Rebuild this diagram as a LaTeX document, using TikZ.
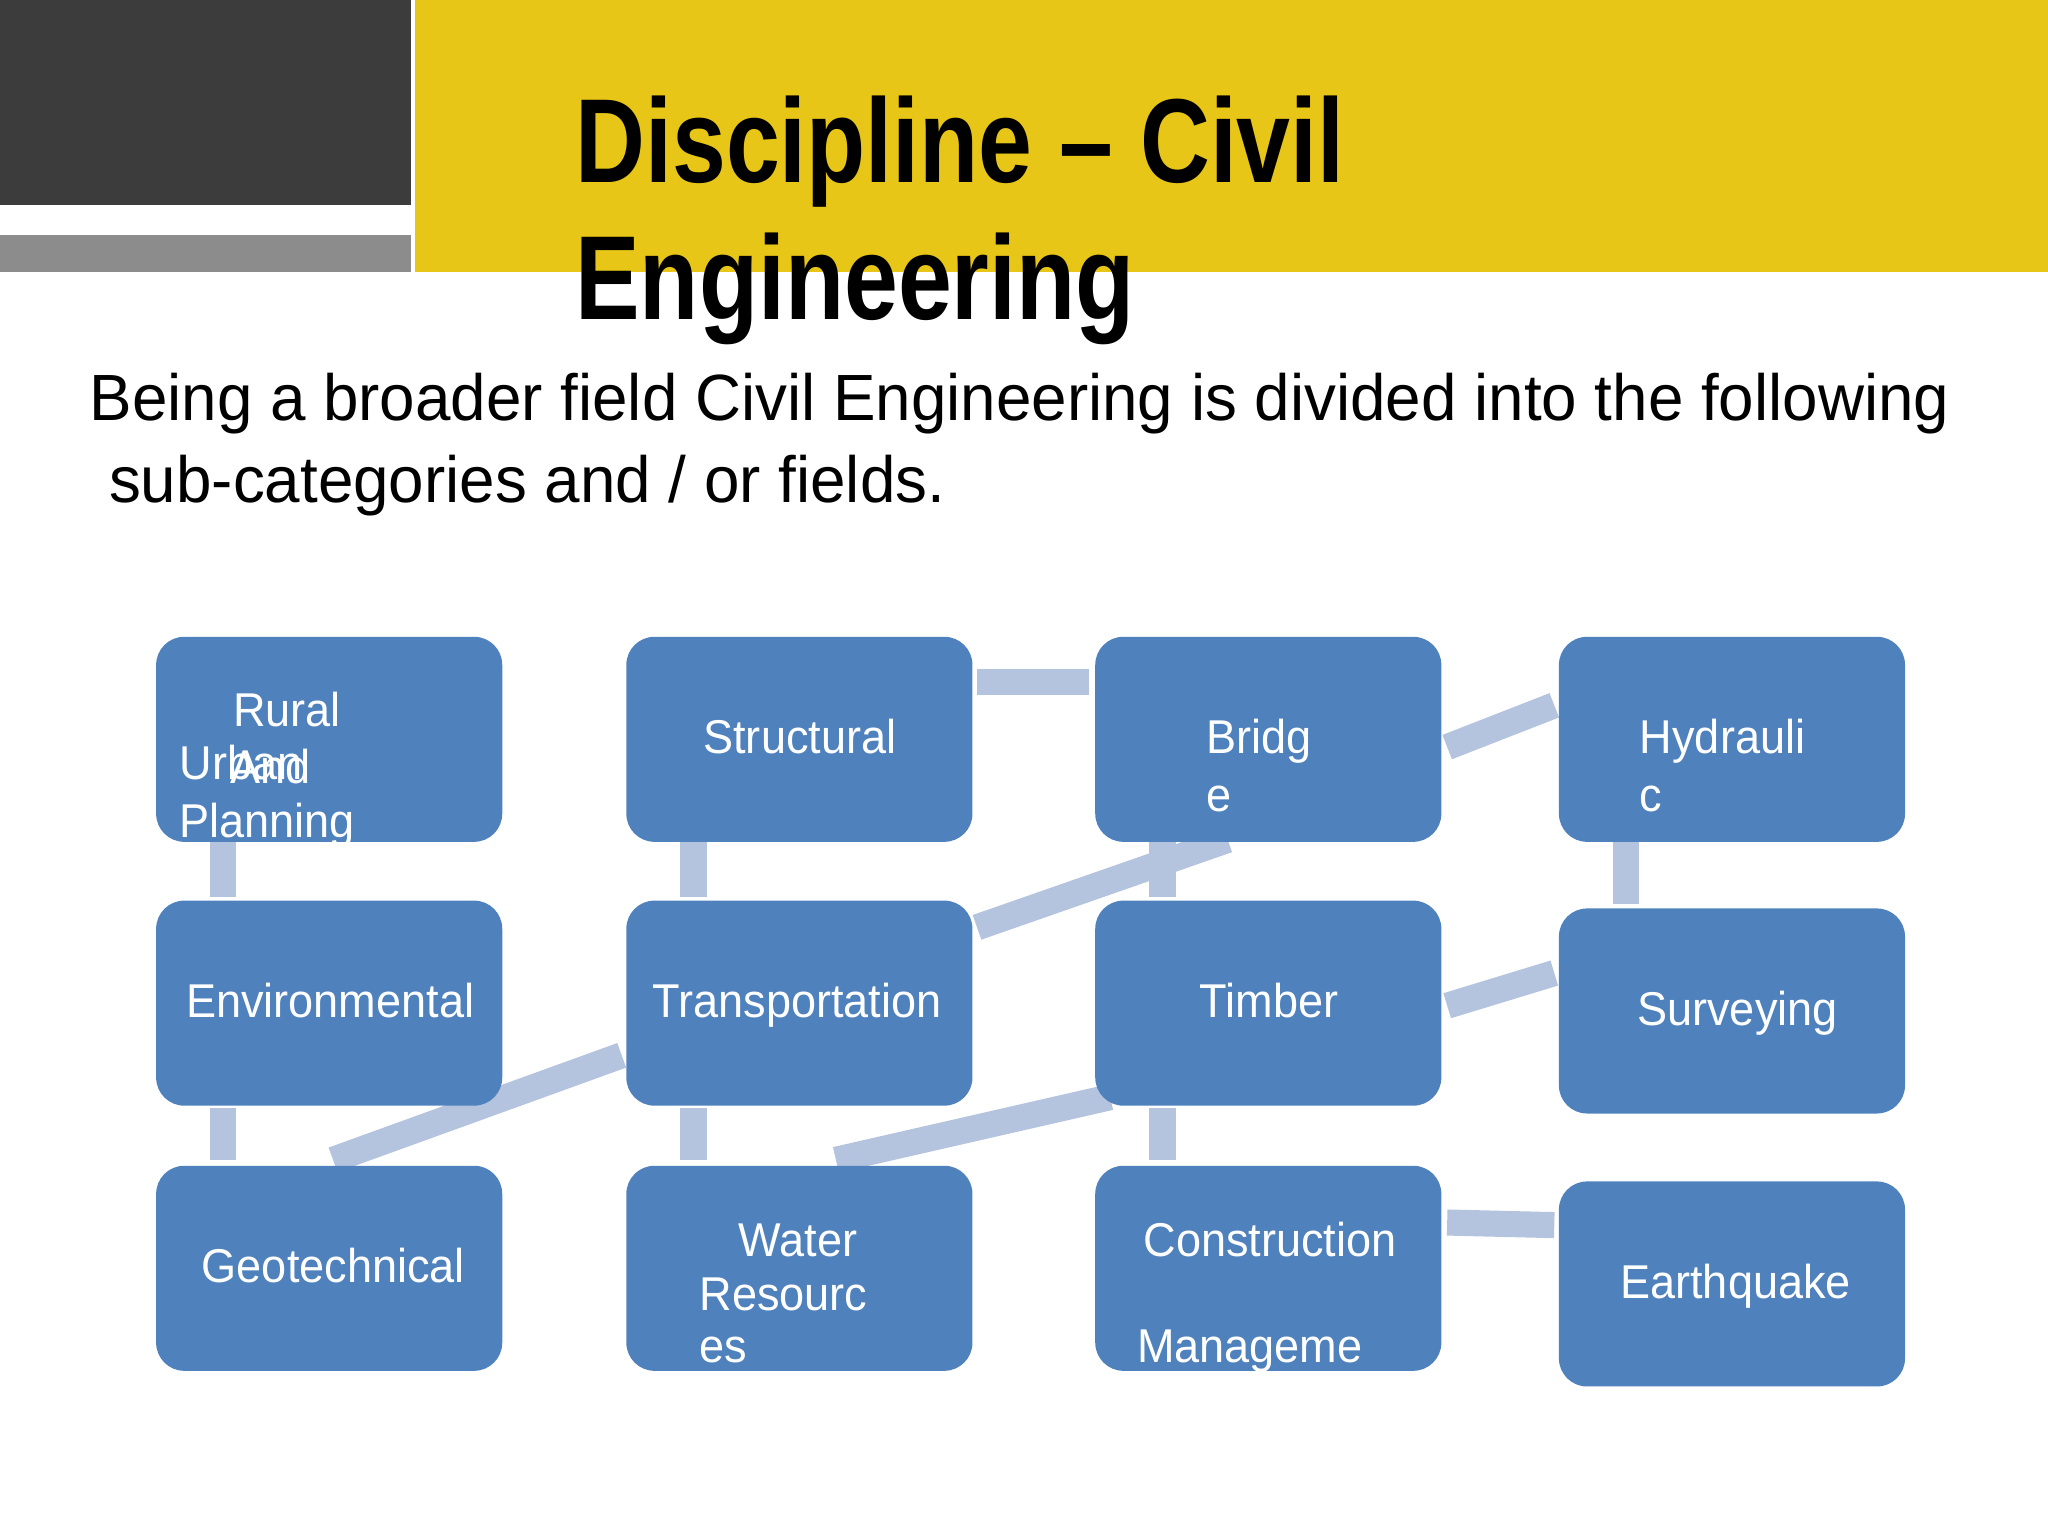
\documentclass[tikz,border=0pt]{standalone}
\usepackage{fontspec}
\setmainfont{Liberation Sans}
\newfontfamily\titlefont{Liberation Sans}[FakeStretch=0.81]
\newfontfamily\bodyfont{Liberation Sans}[FakeStretch=0.975]
\newfontfamily\boxfont{Liberation Sans}[FakeStretch=0.95]
\usetikzlibrary{positioning}
\definecolor{boxblue}{HTML}{4F81BD}
\definecolor{linkblue}{HTML}{B4C3DE}
\definecolor{bandyellow}{HTML}{E8C617}
\definecolor{darkband}{HTML}{3C3C3C}
\definecolor{greyband}{HTML}{8C8C8C}
\tikzset{field/.style={fill=boxblue,rounded corners=8,minimum width=265*0.013061cm,minimum height=157*0.013061cm,inner sep=0pt,anchor=north west}}
\tikzset{ftext/.style={white,font=\boxfont\fontsize{13.5}{15}\selectfont,anchor=base west,inner sep=0pt}}
\tikzset{link/.style={linkblue,line width=20*0.013061cm}}
\begin{document}
\begin{tikzpicture}[x=0.013061cm,y=-0.013061cm]
            \useasboundingbox (0,0) rectangle (1568,1176);
            % header band
            \fill[darkband] (0,0) rectangle (315,157);
            \fill[greyband] (0,180) rectangle (315,208);
            \fill[bandyellow] (318,0) rectangle (1568,208);
            \node[anchor=base west,inner sep=0pt,font=\titlefont\fontsize{34}{40}\bfseries\selectfont] (title1) at (440,140) {Discipline – Civil};
            \node[anchor=base west,inner sep=0pt,font=\titlefont\fontsize{34}{40}\bfseries\selectfont] (title2) at (440,245) {Engineering};
            % intro text
            \node[anchor=base west,inner sep=0pt,font=\bodyfont\fontsize{18.6}{22}\selectfont] (intro1) at (68,322) {Being a\ broader field Civil Engineering is divided into the following};
            \node[anchor=base west,inner sep=0pt,font=\bodyfont\fontsize{18.6}{22}\selectfont] (intro2) at (83,385) {sub-categories and /\ or fields.};
            % coordinates for the links
            \coordinate (s1) at (171,645); \coordinate (s2) at (171,687);
            \coordinate (s3) at (171,848); \coordinate (s4) at (171,888);
            \coordinate (t1) at (531,645); \coordinate (t2) at (531,687);
            \coordinate (t3) at (531,848); \coordinate (t4) at (531,888);
            \coordinate (u1) at (890,645); \coordinate (u2) at (890,687);
            \coordinate (u3) at (890,848); \coordinate (u4) at (890,888);
            \coordinate (v1) at (1245,645); \coordinate (v2) at (1245,692);
            \coordinate (h1) at (748,522); \coordinate (h2) at (834,522);
            \coordinate (h3) at (1108,572); \coordinate (h4) at (1190,540);
            \coordinate (h5) at (748,710); \coordinate (h6) at (940,643);
            \coordinate (h7) at (1108,770); \coordinate (h8) at (1190,745);
            \coordinate (h9) at (255,888); \coordinate (h10) at (476,808);
            \coordinate (h11) at (640,888); \coordinate (h12) at (850,840);
            \coordinate (h13) at (1108,936); \coordinate (h14) at (1190,938);
            \foreach \a/\b in {s1/s2,s3/s4,t1/t2,t3/t4,u1/u2,u3/u4,v1/v2,h1/h2,h3/h4,h5/h6,h7/h8,h9/h10,h11/h12,h13/h14}
                \draw[link] (\a) -- (\b);
            % boxes
            \node[field] (rural) at (119,487) {};
            \node[field] (env) at (119,689) {};
            \node[field] (geo) at (119,892) {};
            \node[field] (struct) at (479,487) {};
            \node[field] (trans) at (479,689) {};
            \node[field] (water) at (479,892) {};
            \node[field] (bridge) at (838,487) {};
            \node[field] (timber) at (838,689) {};
            \node[field] (constr) at (838,892) {};
            \node[field] (hydro) at (1193,487) {};
            \node[field] (survey) at (1193,695) {};
            \node[field] (quake) at (1193,904) {};
            % labels
            \node[ftext] at (178,556) {Rural};
            \node[ftext] at (137,597) {Urban};
            \node[ftext] at (176,600) {And};
            \node[ftext] at (137,641) {Planning};
            \node[ftext] at (142,779) {Environmental};
            \node[ftext] at (154,982) {Geotechnical};
            \node[ftext] at (538,577) {Structural};
            \node[ftext] at (499,779) {Transportation};
            \node[ftext] at (565,962) {Water};
            \node[ftext] at (535,1003) {Resourc};
            \node[ftext] at (535,1043) {es};
            \node[ftext] at (923,577) {Bridg};
            \node[ftext] at (923,621) {e};
            \node[ftext] at (918,779) {Timber};
            \node[ftext] at (875,962) {Construction};
            \node[ftext] at (870,1043) {Manageme};
            \node[ftext] at (1255,577) {Hydrauli};
            \node[ftext] at (1255,621) {c};
            \node[ftext] at (1253,785) {Surveying};
            \node[ftext] at (1240,994) {Earthquake};
        \end{tikzpicture}
\end{document}
